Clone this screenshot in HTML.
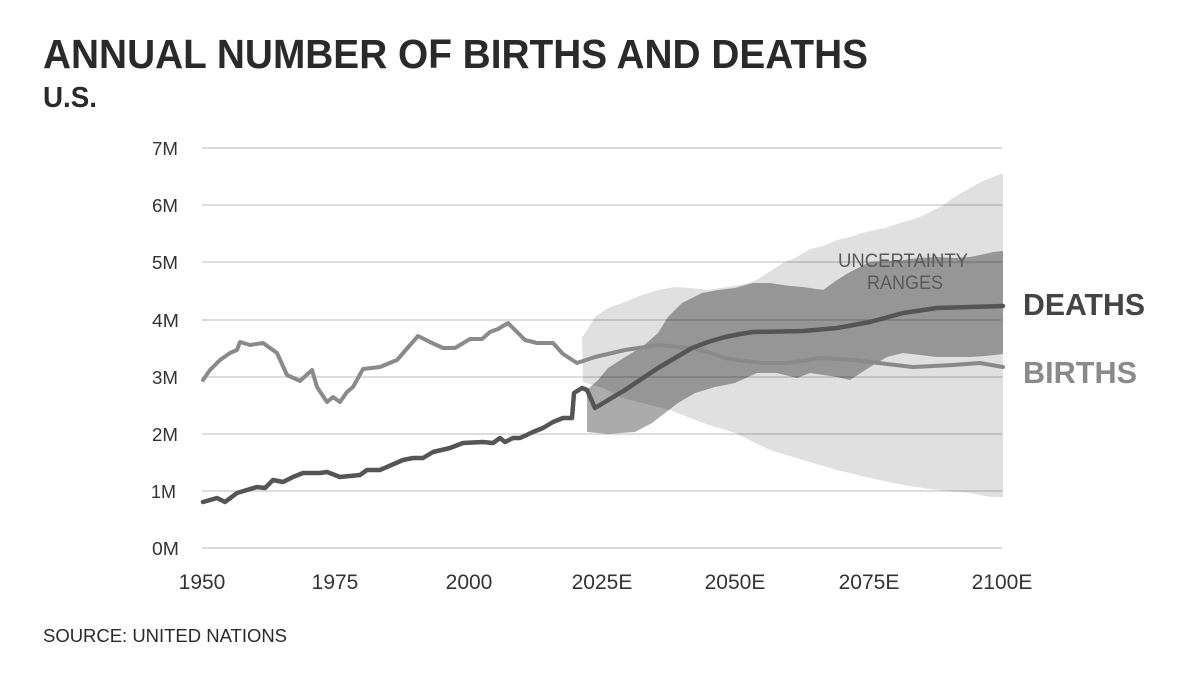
<!DOCTYPE html>
<html>
<head>
<meta charset="utf-8">
<style>
  html, body { margin:0; padding:0; background:#ffffff; }
  svg { display:block; }
  text { font-family: "Liberation Sans", "DejaVu Sans", sans-serif; }
</style>
</head>
<body>
<svg width="1200" height="675" viewBox="0 0 1200 675" xmlns="http://www.w3.org/2000/svg">
  <rect width="1200" height="675" fill="#ffffff"/>

  <!-- Title -->
  <text x="43" y="68" font-size="41" font-weight="bold" fill="#2a2a2a" textLength="825" lengthAdjust="spacingAndGlyphs">ANNUAL NUMBER OF BIRTHS AND DEATHS</text>
  <text x="43" y="107" font-size="29" font-weight="bold" fill="#2a2a2a" textLength="54" lengthAdjust="spacingAndGlyphs">U.S.</text>

  <!-- Gridlines -->
  <g stroke="#dddddd" stroke-width="2">
    <line x1="202" y1="148" x2="1002" y2="148"/>
    <line x1="202" y1="205" x2="1002" y2="205"/>
    <line x1="202" y1="262" x2="1002" y2="262"/>
    <line x1="202" y1="320" x2="1002" y2="320"/>
    <line x1="202" y1="377" x2="1002" y2="377"/>
    <line x1="202" y1="434" x2="1002" y2="434"/>
    <line x1="202" y1="491" x2="1002" y2="491"/>
    <line x1="202" y1="548" x2="1002" y2="548"/>
  </g>

  <!-- Y labels -->
  <g font-size="18" fill="#333333">
    <text x="152" y="155" textLength="26" lengthAdjust="spacingAndGlyphs">7M</text>
    <text x="152" y="212" textLength="26" lengthAdjust="spacingAndGlyphs">6M</text>
    <text x="152" y="269" textLength="26" lengthAdjust="spacingAndGlyphs">5M</text>
    <text x="152" y="327" textLength="27" lengthAdjust="spacingAndGlyphs">4M</text>
    <text x="152" y="384" textLength="26" lengthAdjust="spacingAndGlyphs">3M</text>
    <text x="152" y="441" textLength="26" lengthAdjust="spacingAndGlyphs">2M</text>
    <text x="151" y="498">1M</text>
    <text x="152" y="555" textLength="27" lengthAdjust="spacingAndGlyphs">0M</text>
  </g>

  <!-- X labels -->
  <g font-size="21" fill="#333333" text-anchor="middle">
    <text x="202" y="589">1950</text>
    <text x="335" y="589">1975</text>
    <text x="469" y="589">2000</text>
    <text x="602" y="589">2025E</text>
    <text x="735" y="589">2050E</text>
    <text x="869" y="589">2075E</text>
    <text x="1002" y="589">2100E</text>
  </g>

  <!-- Light uncertainty band (births) -->
  <polygon fill="rgba(0,0,0,0.12)" stroke="none"
    points="582,338 595,317 608,308 625,302 642,295 658,290 675,287 692,288 708,290 720,288 740,285 752,282 760,278 772,270 783,263 795,258 810,249 823,246 837,240 850,237 862,233 870,231 885,228 903,222 915,219 930,212 942,206 953,198 965,191 977,184 990,178 1003,173
            1003,497 990,497 970,493 937,490 903,485 870,478 837,470 803,460 770,450 735,433 703,423 670,410 642,403 620,397 603,388 583,382"/>

  <!-- Dark uncertainty band (deaths) -->
  <polygon fill="rgba(0,0,0,0.33)" stroke="none"
    points="587,390 598,380 608,368 625,357 642,347 658,333 668,317 682,303 702,293 718,290 735,288 753,283 770,283 790,286 803,287 823,290 837,280 850,272 870,262 885,261 903,260 920,258 937,257 955,258 970,257 985,254 993,252 1003,251
            1003,354 985,356 970,357 937,357 903,353 887,357 870,367 850,380 837,377 810,373 797,378 777,373 757,373 735,383 715,387 695,393 678,403 665,413 652,423 635,432 608,434 587,432"/>

  <!-- Births line -->
  <polyline fill="none" stroke="#8a8a8a" stroke-width="4" stroke-linejoin="round" stroke-linecap="round"
    points="203,380 210,370 220,360 230,353 237,350 240,342 250,345 263,343 277,353 287,375 300,381 312,370 317,387 327,402 333,397 340,402 347,392 353,387 363,369 380,367 397,360 418,336 430,342 443,348 455,348 470,339 482,339 490,332 498,329 508,323 525,340 537,343 553,343 563,354 577,363 595,357 625,350 658,345 692,348 708,352 725,358 737,360 763,363 787,363 820,358 853,360 887,364 913,367 953,365 980,363 1003,367"/>

  <!-- Deaths line -->
  <polyline fill="none" stroke="#555555" stroke-width="4.5" stroke-linejoin="round" stroke-linecap="round"
    points="203,502 217,498 225,502 237,493 257,487 265,488 273,480 283,482 293,477 303,473 320,473 327,472 340,477 360,475 367,470 380,470 403,460 413,458 423,458 433,452 450,448 463,443 483,442 493,443 500,438 505,442 513,438 520,438 533,432 543,428 553,422 563,418 572,418 574,393 582,388 587,390 595,408 625,390 658,368 692,348 708,342 725,337 740,334 753,332 803,331 837,328 870,322 903,313 937,308 970,307 1003,306"/>

  <!-- Uncertainty label -->
  <g font-size="19" fill="#5a5a5a" text-anchor="middle">
    <text x="903" y="267" textLength="130" lengthAdjust="spacingAndGlyphs">UNCERTAINTY</text>
    <text x="905" y="289" textLength="76" lengthAdjust="spacingAndGlyphs">RANGES</text>
  </g>

  <!-- Series labels -->
  <text x="1023" y="315" font-size="31" font-weight="bold" fill="#444444" textLength="122" lengthAdjust="spacingAndGlyphs">DEATHS</text>
  <text x="1023" y="383" font-size="31" font-weight="bold" fill="#8a8a8a" textLength="114" lengthAdjust="spacingAndGlyphs">BIRTHS</text>

  <!-- Source -->
  <text x="43" y="642" font-size="18" fill="#2a2a2a" textLength="244" lengthAdjust="spacingAndGlyphs">SOURCE: UNITED NATIONS</text>
</svg>
</body>
</html>
